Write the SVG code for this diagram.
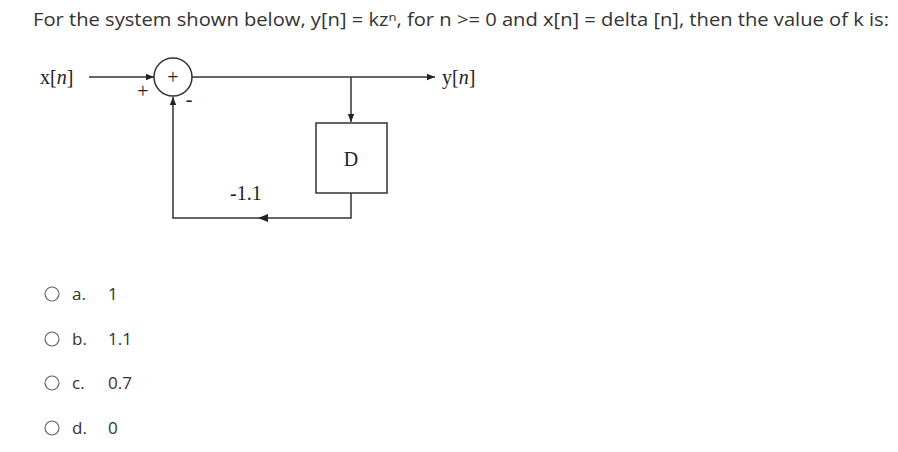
<svg xmlns="http://www.w3.org/2000/svg" width="898" height="452" viewBox="0 0 898 452">
<style>
.q{font-family:"Open Sans",sans-serif;font-size:18px;fill:#333}
.o{font-family:"Open Sans",sans-serif;font-size:17px;fill:#333}
.s{font-family:"Liberation Serif",serif;font-size:20px;fill:#222}
.l{stroke:#333;stroke-width:1.5;fill:none}
.r{fill:none;stroke:#666;stroke-width:1.2}
</style>
<defs><marker id="a" viewBox="0 0 10 10" refX="10" refY="5" markerWidth="8" markerHeight="8" markerUnits="userSpaceOnUse" orient="auto"><path d="M0,1L10,5L0,9z" fill="#222"/></marker></defs>
<rect width="898" height="452" fill="#fff"/>
<text class="q" x="33" y="26" textLength="856" lengthAdjust="spacingAndGlyphs">For the system shown below, y[n] = kzⁿ, for n &gt;= 0 and x[n] = delta [n], then the value of k is:</text>
<g id="sum"><circle cx="173" cy="77" r="19" class="l"/><text class="s" x="173" y="84" text-anchor="middle">+</text></g>
<g id="delay"><rect x="316" y="123" width="71" height="70" class="l"/><text class="s" x="351" y="166" text-anchor="middle" font-size="22">D</text></g>
<g id="in"><text class="s" x="40" y="84">x[<tspan font-style="italic">n</tspan>]</text></g>
<g id="out"><text class="s" x="442" y="84">y[<tspan font-style="italic">n</tspan>]</text></g>
<g id="connectors">
<line x1="89" y1="77" x2="154" y2="77" class="l" marker-end="url(#a)"/>
<line x1="192" y1="77" x2="435" y2="77" class="l" marker-end="url(#a)"/>
<line x1="351" y1="77" x2="351" y2="122" class="l" marker-end="url(#a)"/>
<polyline points="351,193 351,218 173,218 173,97" class="l" marker-end="url(#a)"/>
<path d="M268,214L258,218L268,222z" fill="#222"/>
</g>
<text class="s" x="143" y="98" text-anchor="middle">+</text>
<text class="s" x="189" y="106" text-anchor="middle">-</text>
<text class="s" x="230" y="200" font-size="19">-1.1</text>
<g id="opts">
<circle cx="52" cy="294" r="7" class="r"/><text class="o" x="72" y="300">a.</text><text class="o" x="108" y="300">1</text>
<circle cx="52" cy="339" r="7" class="r"/><text class="o" x="72" y="345">b.</text><text class="o" x="108" y="345">1.1</text>
<circle cx="52" cy="383" r="7" class="r"/><text class="o" x="72" y="389">c.</text><text class="o" x="108" y="389">0.7</text>
<circle cx="52" cy="428" r="7" class="r"/><text class="o" x="72" y="434">d.</text><text class="o" x="108" y="434">0</text>
</g>
</svg>
